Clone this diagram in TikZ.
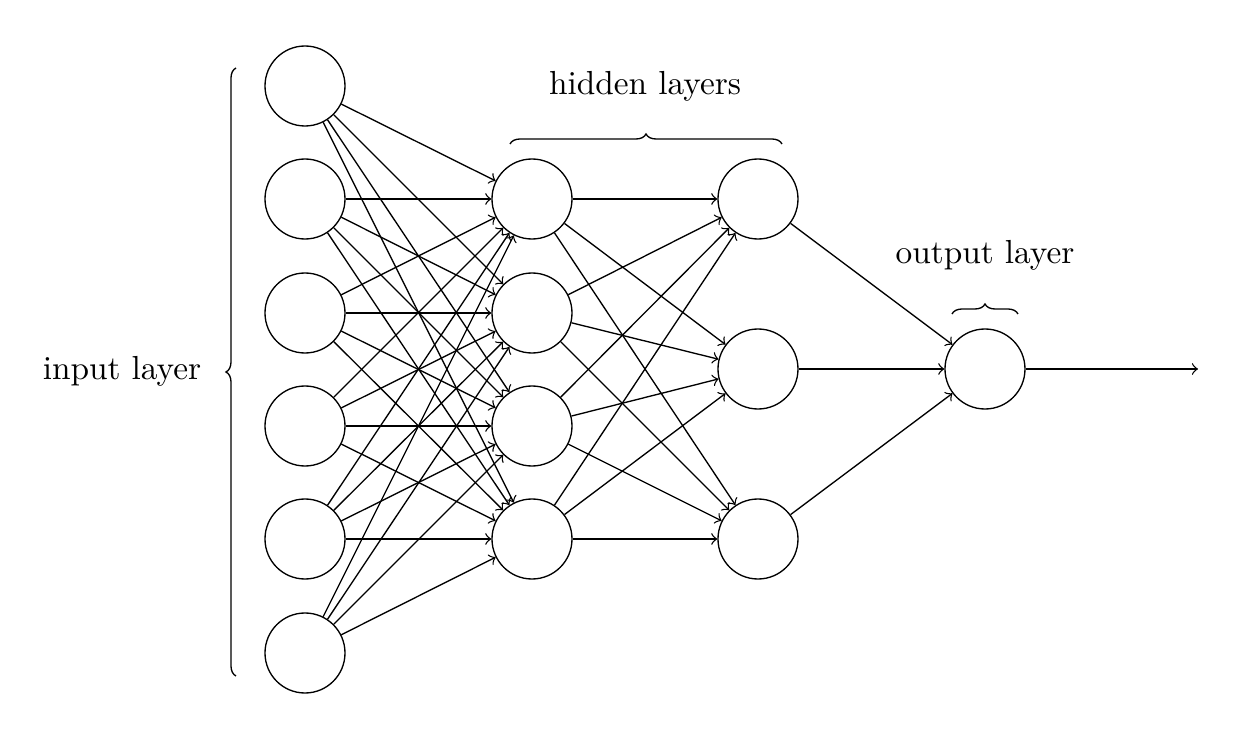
\documentclass[tikz,border=0pt]{standalone}
\usetikzlibrary{decorations.pathreplacing}
\begin{document}
\begin{tikzpicture}[x=0.3pt,y=-0.3pt,
  neuron/.style={circle,draw,minimum size=24pt,inner sep=0pt},
  conn/.style={->,line width=0.4pt},
  brc/.style={decorate,decoration={brace,amplitude=3pt},line width=0.4pt}]
\useasboundingbox (0,0) rectangle (1238,742);
\foreach \i/\y in {1/86,2/199,3/313,4/426,5/539,6/653} \node[neuron] (I\i) at (305,\y) {};
\foreach \i/\y in {1/199,2/313,3/426,4/539} \node[neuron] (H\i) at (532,\y) {};
\foreach \i/\y in {1/199,2/369,3/539} \node[neuron] (G\i) at (758,\y) {};
\node[neuron] (O) at (985,369) {};
\coordinate (E) at (1198,369);
\foreach \a in {1,...,6} \foreach \b in {1,...,4} \draw[conn] (I\a) -- (H\b);
\foreach \a in {1,...,4} \foreach \b in {1,...,3} \draw[conn] (H\a) -- (G\b);
\foreach \a in {1,...,3} \draw[conn] (G\a) -- (O);
\draw[conn] (O) -- (E);
\coordinate (ib1) at (236,676); \coordinate (ib2) at (236,68);
\draw[brc] (ib1) -- (ib2);
\coordinate (hb1) at (510,144); \coordinate (hb2) at (782,144);
\draw[brc] (hb1) -- (hb2);
\coordinate (ob1) at (952,314); \coordinate (ob2) at (1018,314);
\draw[brc] (ob1) -- (ob2);
\node (il) at (122,371) {input layer};
\node (hl) at (645,86) {hidden layers};
\node (ol) at (985,255) {output layer};
\end{tikzpicture}
\end{document}
